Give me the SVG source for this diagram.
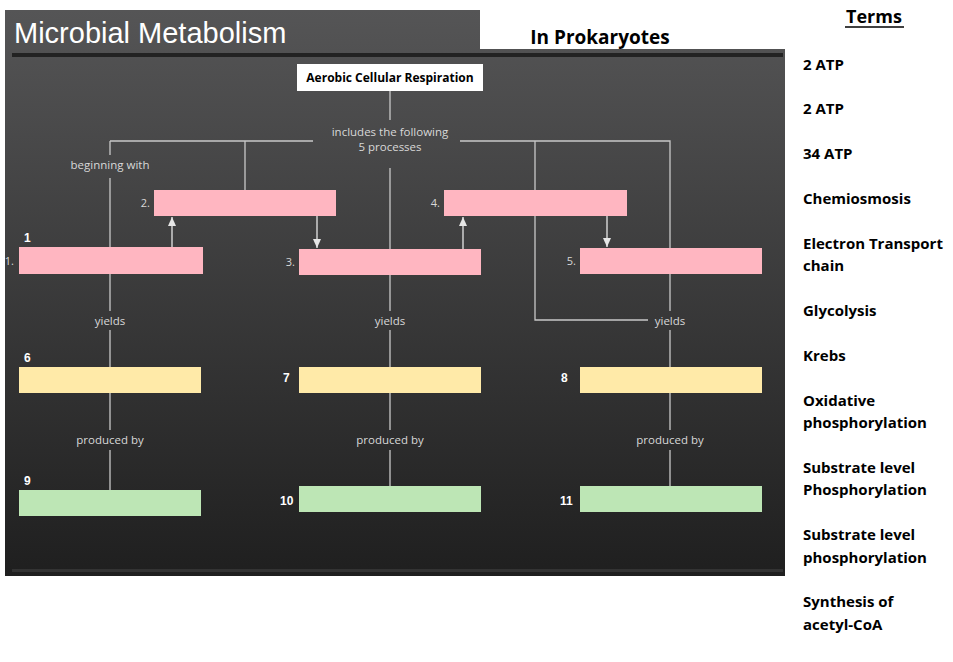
<svg xmlns="http://www.w3.org/2000/svg" width="953" height="662" viewBox="0 0 953 662">
<defs>
<linearGradient id="bg" x1="0" y1="0" x2="0" y2="1"><stop offset="0" stop-color="#555556"/><stop offset="1" stop-color="#1f1f1f"/></linearGradient>
<marker id="ah" markerWidth="9" markerHeight="8" refX="9" refY="4" orient="auto" markerUnits="userSpaceOnUse" viewBox="0 0 9 8"><path d="M0,0 L9,4 L0,8 Z" fill="#e6e6e6"/></marker>
</defs>
<style>
.ln{stroke:#c8c8c8;stroke-width:1.3;fill:none}
.ar{stroke:#e6e6e6;stroke-width:1.3;fill:none;marker-end:url(#ah)}
.pk{fill:#ffb6c1}
.yl{fill:#ffeaa8}
.gr{fill:#bde6b5}
.lb{font-family:"Open Sans","DejaVu Sans",sans-serif;font-size:11.5px;fill:#d8d8d8;text-anchor:middle}
.nm{font-family:"Open Sans",sans-serif;font-size:11px;fill:#d8d8d8;text-anchor:end}
.bn{font-family:"Liberation Sans",sans-serif;font-weight:bold;font-size:12px;fill:#fff}
.tm{font-family:"Open Sans","Liberation Sans",sans-serif;font-weight:bold;font-size:15px;fill:#000}
</style>
<rect width="953" height="662" fill="#fff"/>
<rect x="5" y="10" width="780" height="566" fill="url(#bg)"/>
<rect x="480" y="10" width="305" height="39" fill="#fff"/>
<rect x="12" y="53" width="771" height="4" fill="#222"/>
<rect x="12" y="569" width="771" height="3" fill="#333"/>
<text x="14" y="43" font-family="Liberation Sans,sans-serif" font-size="29" fill="#fff">Microbial Metabolism</text>
<text x="600" y="44" font-family="Open Sans,Liberation Sans,sans-serif" font-weight="bold" font-size="19" text-anchor="middle" fill="#000">In Prokaryotes</text>
<g id="connectors">
<path class="ln" d="M390,91 V120 M110,141 H313 M460,141 H670 V249 M390,168 V249 M110,141 V155 M110,178 V247 M245,141 V190 M535,141 V320 H648 M670,274 V311 M670,330 V367 M670,393 V430 M670,450 V486 M390,275 V311 M390,330 V367 M390,393 V430 M390,450 V486 M110,274 V311 M110,330 V367 M110,393 V430 M110,450 V490"/>
<path class="ar" d="M172,247 V217"/>
<path class="ar" d="M317,216 V248"/>
<path class="ar" d="M463,249 V217"/>
<path class="ar" d="M607,216 V247"/>
<text class="lb" x="390" y="136">includes the following</text>
<text class="lb" x="390" y="151">5 processes</text>
<text class="lb" x="110" y="169">beginning with</text>
<text class="lb" x="110" y="325">yields</text>
<text class="lb" x="390" y="325">yields</text>
<text class="lb" x="670" y="325">yields</text>
<text class="lb" x="110" y="444">produced by</text>
<text class="lb" x="390" y="444">produced by</text>
<text class="lb" x="670" y="444">produced by</text>
</g>
<g id="top"><rect x="297" y="64" width="186" height="27" fill="#fff"/><text x="390" y="82" font-family="Open Sans,sans-serif" font-weight="bold" font-size="12" text-anchor="middle">Aerobic Cellular Respiration</text></g>
<g id="p1"><rect class="pk" x="19" y="247" width="184" height="27"/><text class="nm" x="14" y="265">1.</text><text class="bn" x="24" y="242">1</text></g>
<g id="p2"><rect class="pk" x="154" y="190" width="182" height="26"/><text class="nm" x="150" y="207">2.</text></g>
<g id="p3"><rect class="pk" x="299" y="249" width="182" height="26"/><text class="nm" x="295" y="266">3.</text></g>
<g id="p4"><rect class="pk" x="444" y="190" width="183" height="26"/><text class="nm" x="440" y="207">4.</text></g>
<g id="p5"><rect class="pk" x="580" y="248" width="182" height="26"/><text class="nm" x="576" y="265">5.</text></g>
<g id="y6"><rect class="yl" x="19" y="367" width="182" height="26"/><text class="bn" x="24" y="362">6</text></g>
<g id="y7"><rect class="yl" x="299" y="367" width="182" height="26"/><text class="bn" x="283" y="382">7</text></g>
<g id="y8"><rect class="yl" x="580" y="367" width="182" height="26"/><text class="bn" x="561" y="382">8</text></g>
<g id="g9"><rect class="gr" x="19" y="490" width="182" height="26"/><text class="bn" x="24" y="485">9</text></g>
<g id="g10"><rect class="gr" x="299" y="486" width="182" height="26"/><text class="bn" x="280" y="505">10</text></g>
<g id="g11"><rect class="gr" x="580" y="486" width="182" height="26"/><text class="bn" x="560" y="505">11</text></g>
<g id="terms">
<text x="874" y="23" font-family="Open Sans,Liberation Sans,sans-serif" font-weight="bold" font-size="18" text-anchor="middle">Terms</text>
<line x1="845" y1="27" x2="904" y2="27" stroke="#000" stroke-width="1.5"/>
<text class="tm" x="803" y="70">2 ATP</text>
<text class="tm" x="803" y="114">2 ATP</text>
<text class="tm" x="803" y="159">34 ATP</text>
<text class="tm" x="803" y="204">Chemiosmosis</text>
<text class="tm" x="803" y="249">Electron Transport</text>
<text class="tm" x="803" y="271">chain</text>
<text class="tm" x="803" y="316">Glycolysis</text>
<text class="tm" x="803" y="361">Krebs</text>
<text class="tm" x="803" y="406">Oxidative</text>
<text class="tm" x="803" y="428">phosphorylation</text>
<text class="tm" x="803" y="473">Substrate level</text>
<text class="tm" x="803" y="495">Phosphorylation</text>
<text class="tm" x="803" y="540">Substrate level</text>
<text class="tm" x="803" y="563">phosphorylation</text>
<text class="tm" x="803" y="607">Synthesis of</text>
<text class="tm" x="803" y="630">acetyl-CoA</text>
</g>
</svg>
